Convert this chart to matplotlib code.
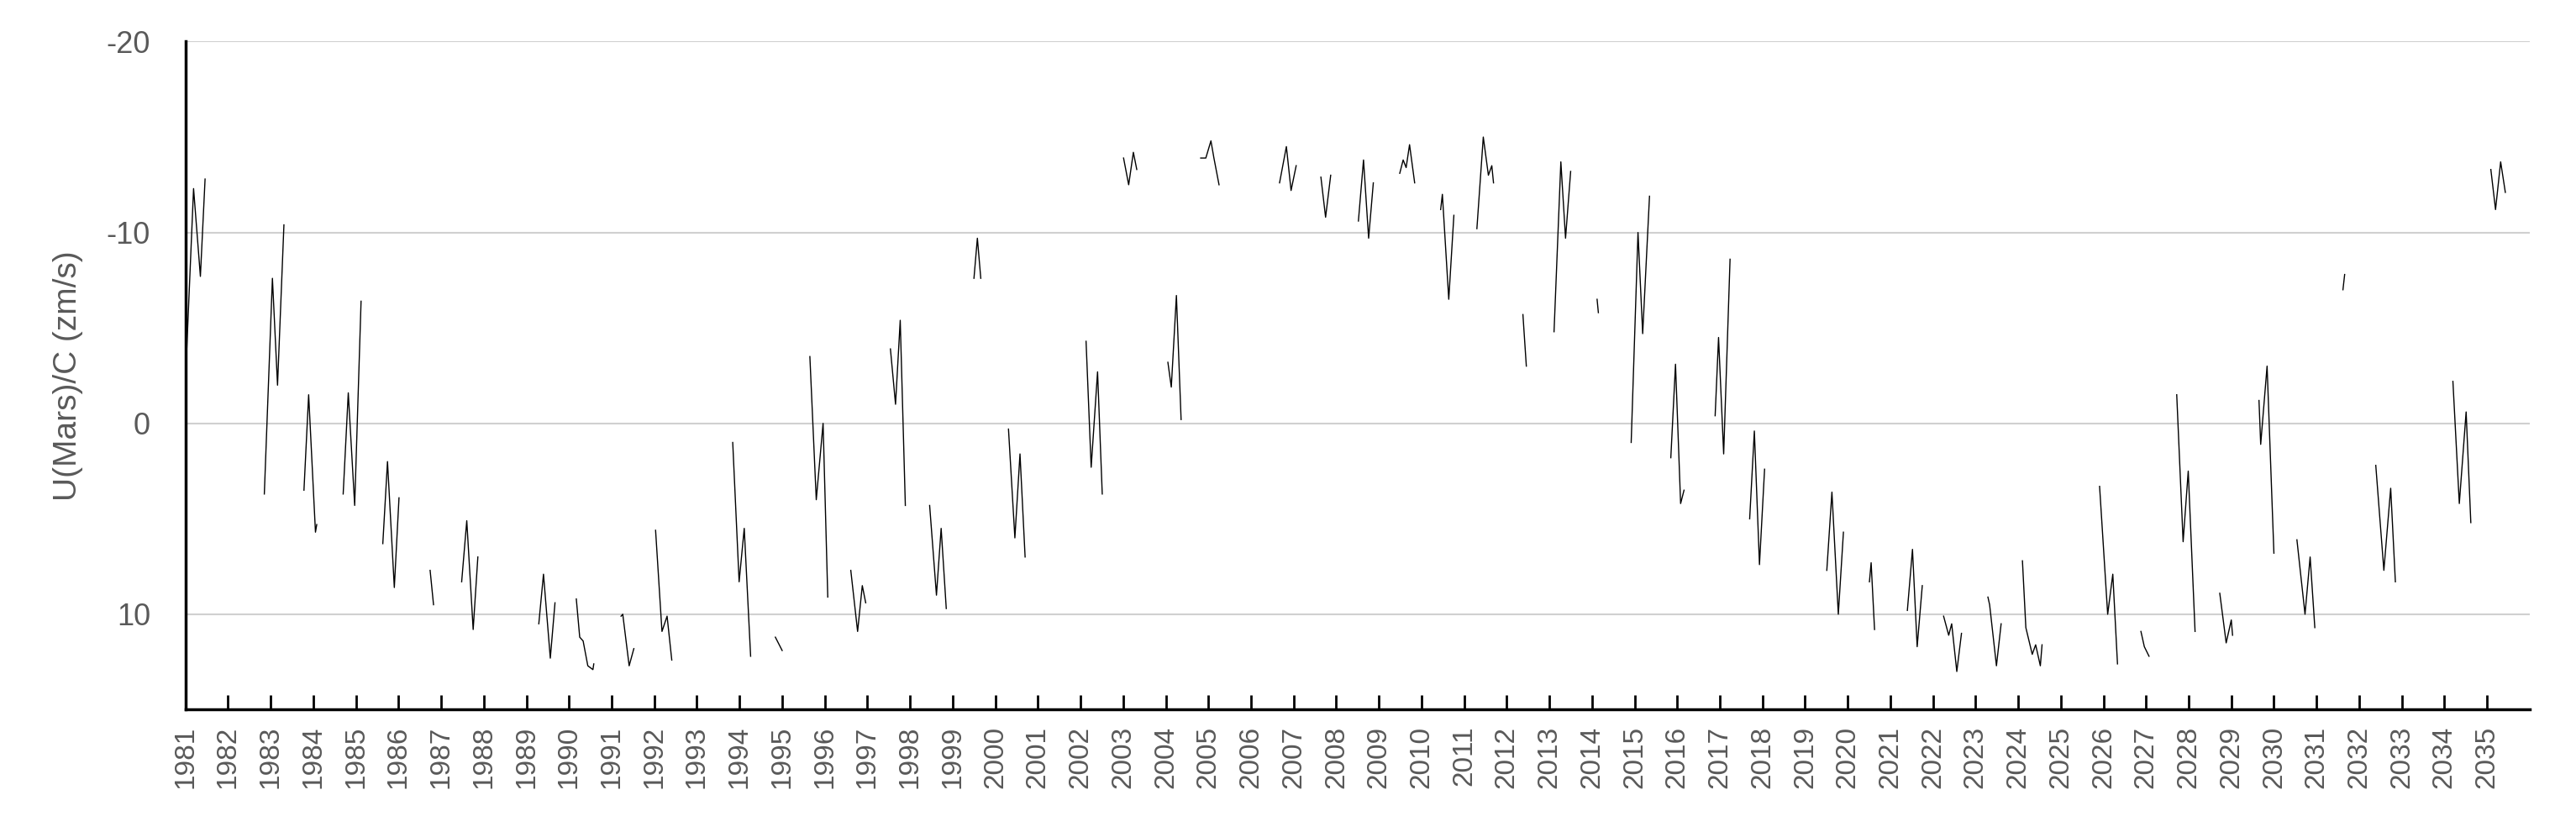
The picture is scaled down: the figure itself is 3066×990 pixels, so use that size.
import matplotlib.pyplot as plt

plt.rcParams["axes.unicode_minus"] = False
plt.rcParams["font.family"] = ["Liberation Sans", "DejaVu Sans"]

# each segment: list of (decimal year, U/C value)
segments = [
    [(1981.0, -2.3), (1981.19, -12.3), (1981.35, -7.7), (1981.46, -12.8)],
    [(1982.85, 3.7), (1983.04, -7.6), (1983.16, -2.0), (1983.31, -10.4)],
    [(1983.78, 3.5), (1983.89, -1.5), (1984.05, 5.7), (1984.08, 5.3)],
    [(1984.7, 3.7), (1984.82, -1.6), (1984.97, 4.3), (1985.12, -6.4)],
    [(1985.63, 6.3), (1985.74, 2.0), (1985.9, 8.6), (1986.01, 3.9)],
    [(1986.74, 7.7), (1986.82, 9.5)],
    [(1987.48, 8.3), (1987.6, 5.1), (1987.75, 10.8), (1987.86, 7.0)],
    [(1989.29, 10.5), (1989.4, 7.9), (1989.56, 12.3), (1989.67, 9.4)],
    [(1990.17, 9.2), (1990.25, 11.2), (1990.33, 11.4), (1990.44, 12.7), (1990.56, 12.9), (1990.58, 12.6)],
    [(1991.22, 10.1), (1991.26, 10.0), (1991.41, 12.7), (1991.52, 11.8)],
    [(1992.03, 5.6), (1992.18, 10.9), (1992.3, 10.1), (1992.41, 12.4)],
    [(1993.84, 1.0), (1993.99, 8.3), (1994.11, 5.5), (1994.26, 12.2)],
    [(1994.84, 11.2), (1995.0, 11.9)],
    [(1995.65, -3.5), (1995.8, 4.0), (1995.96, 0.0), (1996.07, 9.1)],
    [(1996.61, 7.7), (1996.77, 10.9), (1996.88, 8.5), (1996.96, 9.4)],
    [(1997.54, -3.9), (1997.66, -1.0), (1997.77, -5.4), (1997.89, 4.3)],
    [(1998.46, 4.3), (1998.62, 9.0), (1998.73, 5.5), (1998.85, 9.7)],
    [(1999.5, -7.6), (1999.58, -9.7), (1999.66, -7.6)],
    [(2000.31, 0.3), (2000.46, 6.0), (2000.58, 1.6), (2000.7, 7.0)],
    [(2002.13, -4.3), (2002.25, 2.3), (2002.4, -2.7), (2002.51, 3.7)],
    [(2003.01, -13.9), (2003.13, -12.5), (2003.24, -14.2), (2003.32, -13.3)],
    [(2004.05, -3.2), (2004.13, -1.9), (2004.25, -6.7), (2004.36, -0.2)],
    [(2004.82, -13.9), (2004.94, -13.9), (2005.06, -14.8), (2005.13, -13.9), (2005.25, -12.5)],
    [(2006.67, -12.6), (2006.83, -14.5), (2006.94, -12.2), (2007.06, -13.5)],
    [(2007.64, -12.9), (2007.75, -10.8), (2007.87, -13.0)],
    [(2008.52, -10.6), (2008.64, -13.8), (2008.76, -9.7), (2008.87, -12.6)],
    [(2009.49, -13.1), (2009.57, -13.8), (2009.64, -13.4), (2009.72, -14.6), (2009.84, -12.6)],
    [(2010.45, -11.2), (2010.49, -12.0), (2010.64, -6.5), (2010.76, -10.9)],
    [(2011.3, -10.2), (2011.45, -15.0), (2011.57, -13.0), (2011.65, -13.5), (2011.69, -12.6)],
    [(2012.38, -5.7), (2012.46, -3.0)],
    [(2013.11, -4.8), (2013.27, -13.7), (2013.38, -9.7), (2013.5, -13.2)],
    [(2014.12, -6.5), (2014.15, -5.8)],
    [(2014.92, 1.0), (2015.08, -10.0), (2015.19, -4.7), (2015.35, -11.9)],
    [(2015.85, 1.8), (2015.96, -3.1), (2016.08, 4.2), (2016.16, 3.5)],
    [(2016.89, -0.4), (2016.97, -4.5), (2017.09, 1.6), (2017.24, -8.6)],
    [(2017.7, 5.0), (2017.81, 0.4), (2017.93, 7.4), (2018.05, 2.4)],
    [(2019.51, 7.7), (2019.63, 3.6), (2019.78, 10.0), (2019.9, 5.7)],
    [(2020.51, 8.3), (2020.55, 7.3), (2020.63, 10.8)],
    [(2021.4, 9.8), (2021.52, 6.6), (2021.63, 11.7), (2021.75, 8.5)],
    [(2022.25, 10.1), (2022.37, 11.1), (2022.44, 10.5), (2022.56, 13.0), (2022.67, 11.0)],
    [(2023.29, 9.1), (2023.33, 9.5), (2023.49, 12.7), (2023.6, 10.5)],
    [(2024.1, 7.2), (2024.18, 10.7), (2024.33, 12.1), (2024.41, 11.6), (2024.52, 12.7), (2024.56, 11.6)],
    [(2025.91, 3.3), (2026.1, 10.0), (2026.22, 7.9), (2026.33, 12.6)],
    [(2026.88, 10.9), (2026.96, 11.7), (2027.07, 12.2)],
    [(2027.72, -1.5), (2027.87, 6.2), (2027.99, 2.5), (2028.15, 10.9)],
    [(2028.73, 8.9), (2028.88, 11.5), (2029.0, 10.3), (2029.03, 11.1)],
    [(2029.65, -1.2), (2029.69, 1.1), (2029.84, -3.0), (2030.0, 6.8)],
    [(2030.54, 6.1), (2030.73, 10.0), (2030.85, 7.0), (2030.96, 10.7)],
    [(2031.62, -7.0), (2031.66, -7.8)],
    [(2032.39, 2.2), (2032.58, 7.7), (2032.74, 3.4), (2032.85, 8.3)],
    [(2034.2, -2.2), (2034.35, 4.2), (2034.51, -0.6), (2034.62, 5.2)],
    [(2035.09, -13.3), (2035.2, -11.2), (2035.32, -13.7), (2035.43, -12.1)],
]
years = list(range(1981, 2036))
y_ticks = [-20, -10, 0, 10]

fig = plt.figure(figsize=(30.66, 9.9), dpi=100)
ax = fig.add_axes([0.072, 0.147, 0.91, 0.803])

for seg in segments:
    xs = [p[0] for p in seg]
    ys = [p[1] for p in seg]
    ax.plot(xs, ys, color="black", lw=1.0)

ax.set_xlim(1981, 2036)
ax.set_ylim(15, -20)
ax.set_yticks(y_ticks)
ax.set_xticks(years)
ax.set_xticklabels([str(y) for y in years], rotation=90)
ax.grid(axis="y", color="#d0d0d0", lw=1.5)
ax.set_axisbelow(True)

for s in ["top", "right"]:
    ax.spines[s].set_visible(False)
ax.spines["left"].set_linewidth(2.5)
ax.spines["bottom"].set_linewidth(2.5)
ax.tick_params(axis="x", direction="in", length=12, width=2, labelsize=24,
               labelcolor="#595959", pad=14)
ax.tick_params(axis="y", length=0, labelsize=26, labelcolor="#595959", pad=30)
ax.set_ylabel("U(Mars)/C (zm/s)", fontsize=28, color="#595959", labelpad=20)

plt.savefig("out.png", dpi=100)
